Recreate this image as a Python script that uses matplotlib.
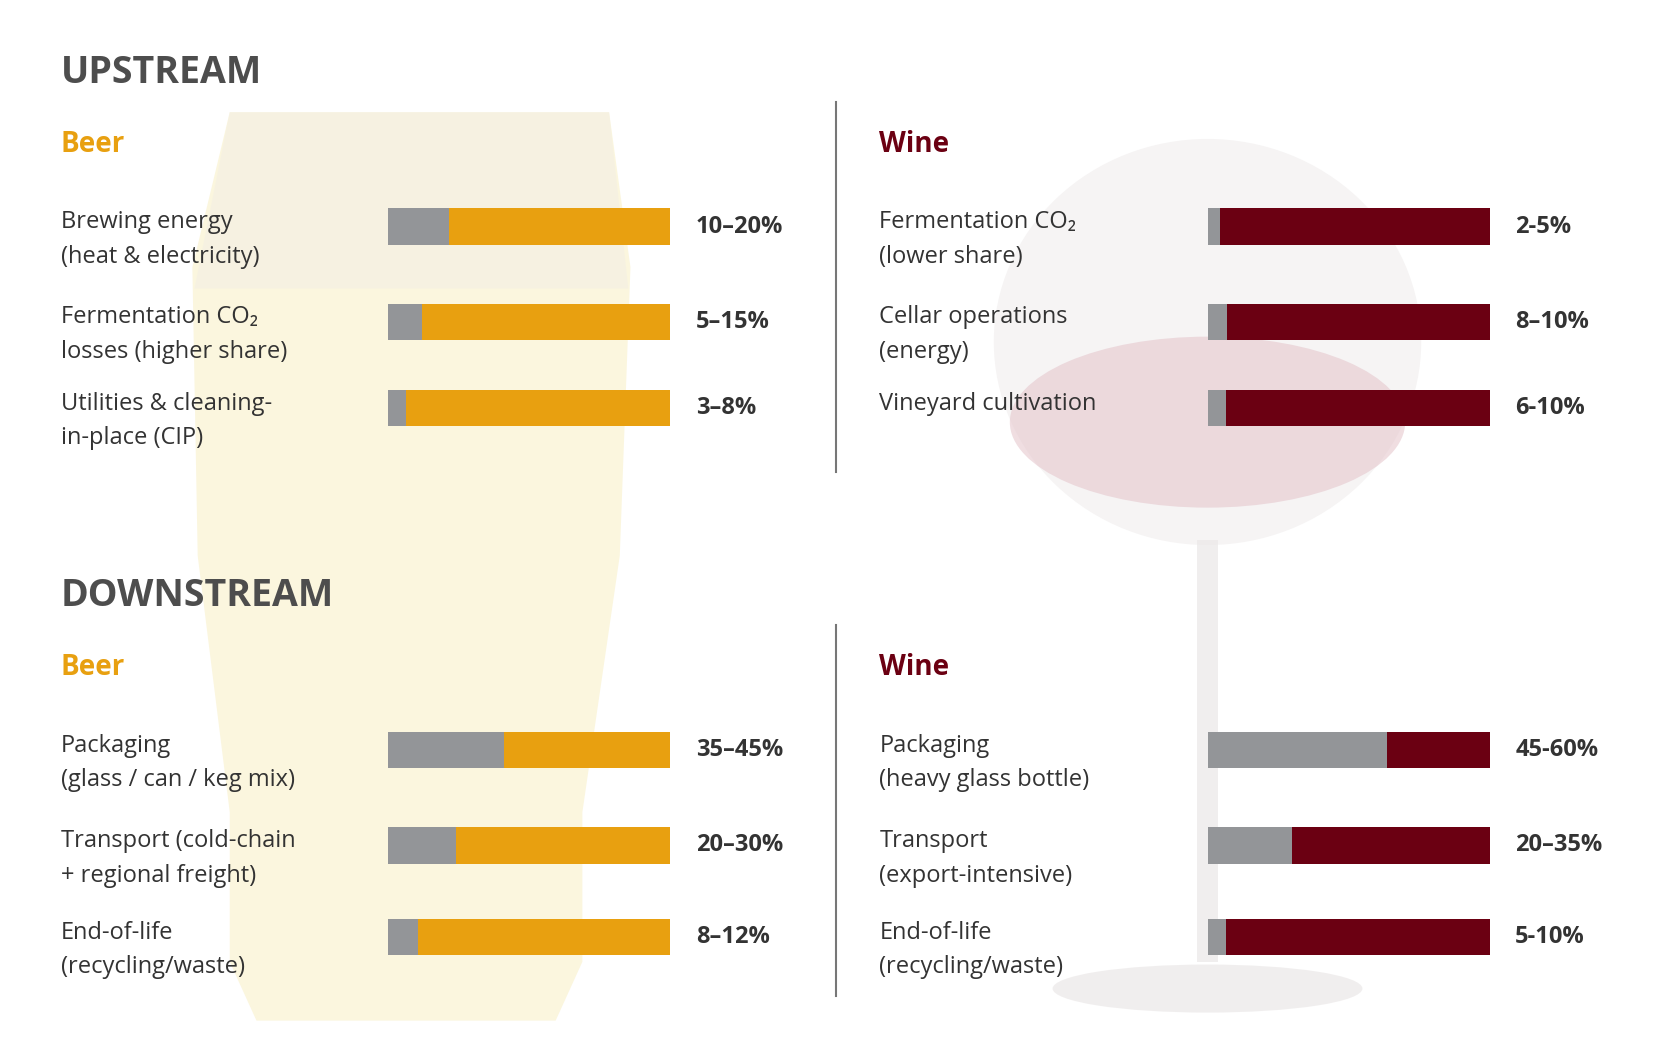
import numpy as np
import matplotlib.pyplot as plt
from matplotlib.patches import Polygon, Ellipse, Rectangle

plt.rcParams['font.family'] = ['Open Sans', 'DejaVu Sans']

# data
beer_up_labels = ["Brewing energy\n(heat & electricity)", "Fermentation CO₂\nlosses (higher share)",
                  "Utilities & cleaning-\nin-place (CIP)"]
beer_up_values = ["10–20%", "5–15%", "3–8%"]
beer_up_grey = [0.216, 0.121, 0.064]

wine_up_labels = ["Fermentation CO₂\n(lower share)", "Cellar operations\n(energy)", "Vineyard cultivation"]
wine_up_values = ["2-5%", "8–10%", "6-10%"]
wine_up_grey = [0.046, 0.068, 0.065]

beer_down_labels = ["Packaging\n(glass / can / keg mix)", "Transport (cold-chain\n+ regional freight)",
                    "End-of-life\n(recycling/waste)"]
beer_down_values = ["35–45%", "20–30%", "8–12%"]
beer_down_grey = [0.413, 0.242, 0.106]

wine_down_labels = ["Packaging\n(heavy glass bottle)", "Transport\n(export-intensive)",
                    "End-of-life\n(recycling/waste)"]
wine_down_values = ["45-60%", "20–35%", "5-10%"]
wine_down_grey = [0.635, 0.30, 0.065]

ORANGE = '#E8A010'
WINE = '#6B0012'
GREY = '#939598'
TEXT = '#333333'

W, H = 1560, 975
fig = plt.figure(figsize=(16.67, 10.42), dpi=100)
ax = fig.add_axes([0, 0, 1, 1])
ax.set_xlim(0, W)
ax.set_ylim(H, 0)
ax.axis('off')

# faint background glasses
beer = Polygon([(215, 105), (570, 105), (590, 250), (580, 520), (545, 760), (545, 900),
                (520, 955), (240, 955), (215, 900), (215, 760), (185, 520), (180, 250)],
               closed=True, fc='#f8efc4', ec='none', alpha=0.55, zorder=0)
ax.add_patch(beer)
ax.add_patch(Polygon([(215, 105), (570, 105), (588, 270), (182, 270)], fc='#f3efe4',
                     ec='none', alpha=0.6, zorder=0))
ax.add_patch(Ellipse((1130, 320), 400, 380, fc='#f0eded', ec='none', alpha=0.6, zorder=0))
ax.add_patch(Ellipse((1130, 395), 370, 160, fc='#e4c3ca', ec='none', alpha=0.55, zorder=0))
ax.add_patch(Rectangle((1120, 505), 20, 395, fc='#ebe8e8', ec='none', alpha=0.7, zorder=0))
ax.add_patch(Ellipse((1130, 925), 290, 45, fc='#ebe8e8', ec='none', alpha=0.7, zorder=0))

BAR_W = 264
BAR_H = 34


def panel(x_label, x_bar, rows, labels, values, grey, color, title, title_color, title_y):
    ax.text(x_label, title_y, title, fontsize=20, fontweight='bold', color=title_color,
            va='center', ha='left')
    g = np.array(grey) * BAR_W
    ax.barh(rows, BAR_W, left=x_bar, height=BAR_H, color=color, zorder=2)
    ax.barh(rows, g, left=x_bar, height=BAR_H, color=GREY, zorder=3)
    for y, lab, val in zip(rows, labels, values):
        dy = 12 if '\n' in lab else -4
        ax.text(x_label, y + dy, lab, fontsize=17, color=TEXT, va='center', ha='left',
                linespacing=1.6)
        ax.text(x_bar + BAR_W + 24, y, val, fontsize=17, fontweight='bold', color=TEXT,
                va='center', ha='left')


up_rows = [212, 301, 382]
down_rows = [702, 791, 877]

ax.text(57, 68, "UPSTREAM", fontsize=27, fontweight='bold', color='#4D4D4D', va='center')
ax.text(57, 558, "DOWNSTREAM", fontsize=27, fontweight='bold', color='#4D4D4D', va='center')

panel(57, 363, up_rows, beer_up_labels, beer_up_values, beer_up_grey, ORANGE, "Beer", ORANGE, 135)
panel(823, 1130, up_rows, wine_up_labels, wine_up_values, wine_up_grey, WINE, "Wine", WINE, 135)
panel(57, 363, down_rows, beer_down_labels, beer_down_values, beer_down_grey, ORANGE, "Beer", ORANGE, 625)
panel(823, 1130, down_rows, wine_down_labels, wine_down_values, wine_down_grey, WINE, "Wine", WINE, 625)

ax.plot([782, 782], [95, 442], color='#777777', lw=1.5)
ax.plot([782, 782], [585, 932], color='#777777', lw=1.5)

fig.savefig('out.png', dpi=100, facecolor='white')
